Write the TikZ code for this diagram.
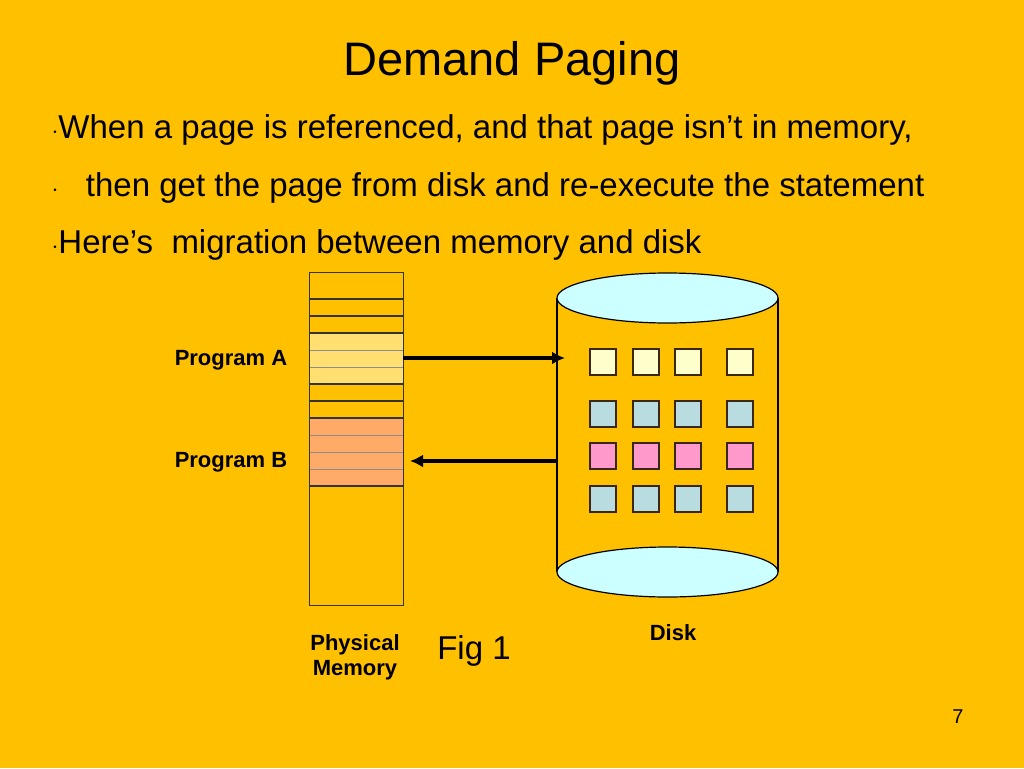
\documentclass[tikz,border=0pt]{standalone}
\usepackage{fontspec}
\setmainfont{Liberation Sans}
\usetikzlibrary{shapes.geometric,arrows.meta}
\begin{document}
\begin{tikzpicture}[x=1pt,y=-1pt,
  lab/.style={font=\fontsize{22}{25}\selectfont\bfseries,align=center},
  body/.style={font=\fontsize{33}{36}\selectfont,anchor=west},
  sq/.style={draw=black!70!brown,line width=1.2pt,minimum size=26pt,inner sep=0pt},
  arr/.style={line width=3.5pt,-{Latex[length=13pt,width=13pt]}}]
\useasboundingbox (0,0) rectangle (1024,768);
\fill[fill={rgb,255:red,255;green,192;blue,0}] (0,0) rectangle (1024,768);
\node[font=\fontsize{47}{52}\selectfont] (title) at (512,63) {Demand Paging};
\node[body] (l1) at (48,130) {$\cdot$When a page is referenced, and that page isn’t in memory,};
\node[body] (l2) at (48,188) {$\cdot$\ \ \ then get the page from disk and re-execute the statement};
\node[body] (l3) at (48,245) {$\cdot$Here’s\ \ migration between memory and disk};
% memory
\fill[fill={rgb,255:red,255;green,224;blue,112}] (309,333) rectangle (403,384);
\fill[fill={rgb,255:red,255;green,170;blue,102}] (309,418) rectangle (403,486);
\foreach \y in {299,316,333,384,401,418,486} \draw[line width=1.2pt,black!80] (309,\y) -- (403,\y);
\foreach \y in {350,367,435,452,469} \draw[line width=1pt,black!45] (309,\y) -- (403,\y);
\node[draw=black!80,line width=1.2pt,minimum width=94pt,minimum height=333pt,inner sep=0pt,anchor=north west] (mem) at (309,272) {};
% disk
\draw[line width=1.2pt] (557,298) -- (557,572) (778,298) -- (778,572);
\node[draw,line width=1.2pt,ellipse,fill={rgb,255:red,204;green,255;blue,255},minimum width=221pt,minimum height=50pt,inner sep=0pt] (top) at (667.5,298) {};
\node[draw,line width=1.2pt,ellipse,fill={rgb,255:red,204;green,255;blue,255},minimum width=221pt,minimum height=50pt,inner sep=0pt] (bot) at (667.5,572) {};
\coordinate (dA) at (565,358);
\coordinate (dB) at (557,461);
\foreach \x [count=\i] in {603,646,688,740}{
  \node[sq,fill={rgb,255:red,255;green,255;blue,204}] (y\i) at (\x,362) {};
  \node[sq,fill={rgb,255:red,185;green,220;blue,224}] (c\i) at (\x,414) {};
  \node[sq,fill={rgb,255:red,255;green,153;blue,204}] (p\i) at (\x,456) {};
  \node[sq,fill={rgb,255:red,185;green,220;blue,224}] (d\i) at (\x,499) {};
}
\coordinate (mA) at (403,358);
\coordinate (mB) at (410,461);
\draw[arr] (mA) -- (dA);
\draw[arr] (dB) -- (mB);
\node[lab] (pa) at (231,360) {Program A};
\node[lab] (pb) at (231,462) {Program B};
\node[lab] (pm) at (355,657) {Physical\\Memory};
\node[font=\fontsize{33}{36}\selectfont] (fig) at (474,651) {Fig 1};
\node[lab] (dk) at (673,633) {Disk};
\node[font=\fontsize{20}{22}\selectfont] (num) at (958,717) {7};
\end{tikzpicture}
\end{document}
